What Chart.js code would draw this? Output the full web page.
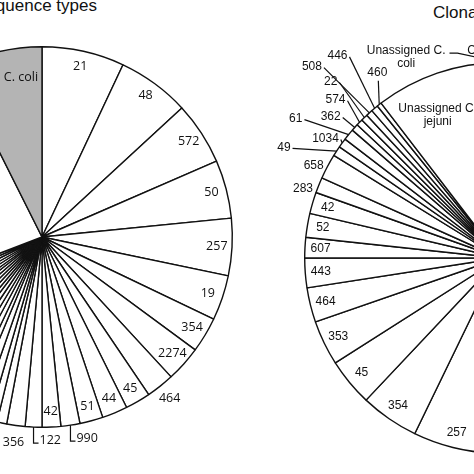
<!DOCTYPE html>
<html><head><meta charset="utf-8">
<script src="https://cdn.jsdelivr.net/npm/chart.js@4/dist/chart.umd.min.js"></script>
<style>
html,body{margin:0;padding:0;width:474px;height:474px;overflow:hidden;background:#fff;position:relative}
canvas{position:absolute}
.t{position:absolute;font:17px "Liberation Sans",Arial,sans-serif;color:#111;white-space:nowrap;line-height:17px}
</style></head><body>
<div class="t" style="right:377px;top:-3px">Sequence types</div>
<div class="t" style="left:433px;top:4px">Clonal complexes</div>
<canvas id="c1" width="480" height="480" style="left:-198px;top:-3px"></canvas>
<canvas id="c2" width="520" height="520" style="left:240px;top:-2px"></canvas>
<script>
// Left pie: sequence types (clockwise from top)
const stLabels = ['21','48','572','50','257','19','354','2274','464','45','44','51','990','42','122','356',
  '','','','','','','','','','','','','','','','','','','','', '', 'Unassigned C. coli'];
const stValues = [25.2,22.1,19.2,17.8,17.5,13.8,10.8,10.9,8.6,7.7,7.8,7.1,5.8,5.7,5.1,5.6,
  3,2.5,3,3.5,2.5,3,2.8,3,3.2,2.7,3,2.9,3,3.1,2.6,3,2.9,3.2,2.8,2.6, 84.4, 26.6];
// Right pie: clonal complexes (clockwise from top)
const ccLabels = ['Unassigned C. coli','CC-21','','','','','','','257','354','45','353','464','443','607','52','42','283','658','49','1034','61','362','574','22','508','446','460','Unassigned C. jejuni'];
const ccValues = [1.5,40,35,30,25,20,15,15.5,23.9,17.4,14.2,13.4,10.3,8.8,6.1,7.1,6.4,4.6,7.5,3.0,2.8,3.4,2.1,2.0,2.0,2.0,2.1,1.4,37.5];

const leftLayout = {
  '464':{rf:1.08}, '356':{rf:1.09}, '990':{elbow:true}, '122':{elbow:true},
  'Unassigned C. coli':{ang:358.6, rf:0.84, align:'right'}
};
const rightLayout = {
  '283':{ang:289.5,rf:1.07}, '658':{ang:296.4,rf:1.065},
  '49':{ang:297.1,rf:1.243,lead:1}, '1034':{ang:304.4,rf:1.083,lead:1}, '61':{ang:304.3,rf:1.266,lead:1},
  '362':{ang:309.9,rf:1.13,lead:1}, '574':{ang:313.9,rf:1.169,lead:1}, '22':{ang:316.2,rf:1.252,lead:1},
  '508':{ang:315.5,rf:1.374,lead:1}, '446':{ang:321.2,rf:1.328,lead:1}, '460':{ang:326.5,rf:1.138,down:1},
  'Unassigned C. jejuni':{ang:336.5,rf:0.8,lines:['Unassigned C.','jejuni']},
  'Unassigned C. coli':{ang:334.9,rf:1.133,lines:['Unassigned C.','coli'],dash:1},
  'CC-21':{ang:351,rf:1.075,align:'left'}
};

function labelPlugin(layout, font){
  return {id:'lbl', afterDraw(ch){
    const ctx=ch.ctx, meta=ch.getDatasetMeta(0);
    ctx.save(); ctx.font=font; ctx.fillStyle='#111'; ctx.strokeStyle='#111'; ctx.lineWidth=1.2;
    ctx.textBaseline='middle';
    meta.data.forEach((el,i)=>{
      const txt=ch.data.labels[i]; if(!txt) return;
      const L=layout[txt]||{};
      const R=el.outerRadius, cx=el.x, cy=el.y;
      const midDeg=((el.startAngle+el.endAngle)/2)*180/Math.PI+90;
      const P=(deg,r)=>{const a=(deg-90)*Math.PI/180;return {x:cx+r*Math.cos(a),y:cy+r*Math.sin(a)};};
      const anchor=P(midDeg,R);
      if(L.elbow){
        const ty=anchor.y+13;
        ctx.beginPath();ctx.moveTo(anchor.x,anchor.y);ctx.lineTo(anchor.x,ty+3);ctx.lineTo(anchor.x+5,ty+3);ctx.stroke();
        ctx.textAlign='left';ctx.fillText(txt,anchor.x+6,ty);
        return;
      }
      const p=P(L.ang!==undefined?L.ang:midDeg,R*(L.rf||0.92));
      const lines=L.lines||[txt];
      ctx.textAlign=L.align||'center';
      const lh=13;
      lines.forEach((s,k)=>ctx.fillText(s,p.x,p.y+(k-(lines.length-1)/2)*lh));
      const w=ctx.measureText(lines[0]).width;
      if(L.lead){
        ctx.beginPath();ctx.moveTo(p.x+w/2+2,p.y+1);ctx.lineTo(anchor.x,anchor.y);ctx.stroke();
      } else if(L.down){
        ctx.beginPath();ctx.moveTo(p.x+1,p.y+8);ctx.lineTo(anchor.x,anchor.y);ctx.stroke();
      } else if(L.dash){
        const y0=p.y-(lines.length-1)/2*lh+2;
        ctx.beginPath();ctx.moveTo(p.x+w/2+4,y0);ctx.lineTo(p.x+w/2+12,y0);ctx.lineTo(anchor.x,anchor.y);ctx.stroke();
      }
    });
    ctx.restore();
  }};
}

function makePie(id, labels, values, colors, pad, layout, font){
  new Chart(document.getElementById(id),{
    type:'pie',
    data:{labels, datasets:[{data:values, backgroundColor:colors, borderColor:'#111', borderWidth:1.4}]},
    options:{responsive:false, animation:false, events:[], layout:{padding:pad},
      plugins:{legend:{display:false}, tooltip:{enabled:false}}},
    plugins:[labelPlugin(layout,font)]
  });
}
makePie('c1', stLabels, stValues, stLabels.map(l=>l==='Unassigned C. coli'?'#b4b4b4':'#ffffff'), 49, leftLayout, '12.5px "Open Sans", sans-serif');
makePie('c2', ccLabels, ccValues, ccLabels.map(()=> '#ffffff'), 64, rightLayout, '12px "Liberation Sans", Arial, sans-serif');
</script></body></html>
